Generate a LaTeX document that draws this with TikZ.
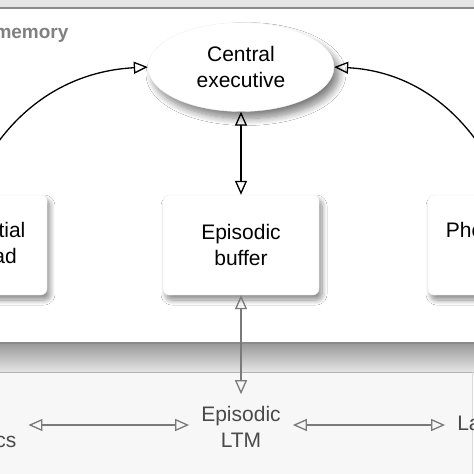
\documentclass[tikz,border=0pt]{standalone}
\usepackage{fontspec}
\setmainfont{Liberation Sans}
\usetikzlibrary{positioning, arrows.meta, shapes.geometric, shadows.blur}
\definecolor{wmframe}{HTML}{8A8A8A}
\definecolor{wmlabel}{HTML}{808080}
\definecolor{ltmtext}{HTML}{4A4A4A}
\definecolor{ltmline}{HTML}{7A7A7A}
\definecolor{ltmfill}{HTML}{F7F7F7}

\begin{document}
\begin{tikzpicture}[
    x=1pt, y=-1pt,
    every node/.style={font=\fontsize{21}{26}\selectfont},
    box/.style={
      draw=black!8, fill=white,
      rounded corners=6pt,
      minimum width=156pt, minimum height=100pt,
      align=center,
      blur shadow={shadow xshift=3pt, shadow yshift=-5pt, shadow blur radius=5pt, shadow blur steps=10, shadow opacity=45},
    },
    exec/.style={
      ellipse, draw=black!6, fill=white,
      minimum width=186pt, minimum height=89pt,
      align=center,
      blur shadow={shadow xshift=5pt, shadow yshift=-7pt, shadow blur radius=7pt, shadow blur steps=10, shadow opacity=50},
    },
    store/.style={
      text=ltmtext, align=center, inner sep=12pt,
    },
    link/.style={
      {Triangle[open, length=14pt, width=12pt]}-{Triangle[open, length=14pt, width=12pt]},
      draw=black, line width=1.3pt,
    },
    feed/.style={
      -{Triangle[open, length=14pt, width=12pt]},
      draw=black, line width=1.3pt,
    },
    ltmlink/.style={
      {Triangle[open, length=14pt, width=12pt]}-{Triangle[open, length=14pt, width=12pt]},
      draw=ltmline, line width=1.3pt,
    },
  ]
  \useasboundingbox (0,0) rectangle (474,474);
  \clip (0,0) rectangle (474,474);

  % backgrounds
  \fill[black!10] (-20,-20) rectangle (494,8);
  \fill[white] (-20,8) rectangle (494,343);
  \draw[wmframe, line width=1.3pt] (-20,8) -- (494,8);
  \shade[top color=black!40, bottom color=black!10] (-20,343) rectangle (494,372);
  \draw[wmframe, line width=1.3pt] (-20,343) -- (494,343);
  \fill[ltmfill] (-20,372) rectangle (472,494);
  \draw[black!30, line width=1pt] (-20,372) -- (494,372);
  \draw[black!15] (472,372) -- (472,494);
  \node[anchor=base east, text=wmlabel, font=\fontsize{19}{23}\selectfont\bfseries] (wm) at (72,38) {Working memory};

  % working memory
  \node[exec] (ce) at (241,67) {Central\\executive};
  \node[box] (eb) at (241,245) {Episodic\\buffer};
  \node[box] (vs) at (-31,245) {Visuospatial\\sketchpad};
  \node[box] (pl) at (506,245) {Phonological\\loop};

  \draw[link] (ce) -- (eb);
  \draw[feed] (vs.north) to[out=68, in=183] (ce.west);
  \draw[feed] (pl.north) to[out=112, in=-3] (ce.east);

  % long-term memory
  \node[store] (ltm) at (241,427) {Episodic\\LTM};
  \node[store] (sem) at (-31,427) {Visual\\semantics};
  \node[store] (lang) at (504,425) {Language};

  \draw[ltmlink] (eb) -- (ltm);
  \draw[ltmlink] (sem.east |- lang) -- (ltm.west |- lang);
  \draw[ltmlink] (ltm.east |- lang) -- (lang.west);
\end{tikzpicture}
\end{document}
